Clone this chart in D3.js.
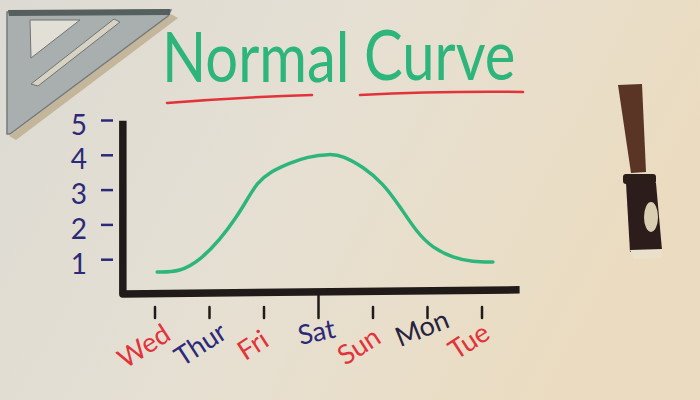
<!DOCTYPE html>
<html>
<head>
<meta charset="utf-8">
<script src="https://cdn.jsdelivr.net/npm/d3@7"></script>
<style>
  body { margin: 0; background: #e4e0d6; }
  svg { display: block; }
  text { font-family: "Lato", "Open Sans", sans-serif; }
</style>
</head>
<body>
<svg id="chart" width="700" height="400"></svg>
<script>
const days = ['Wed', 'Thur', 'Fri', 'Sat', 'Sun', 'Mon', 'Tue'];
const yTicks = [1, 2, 3, 4, 5];
// curve as (position along days, value)
const curveDay = [0.04, 0.46, 0.83, 1.19, 1.5, 1.69, 1.87, 2.11, 2.48, 2.79, 3.21, 3.45, 3.82, 4.18, 4.5, 4.81, 5.1, 5.47, 5.83, 6.2];
const curveVal = [0.63, 0.63, 0.98, 1.55, 2.22, 2.71, 3.19, 3.51, 3.77, 3.94, 4.03, 3.97, 3.65, 3.19, 2.5, 1.76, 1.32, 1.04, 0.92, 0.92];
const titleWords = ['Normal', 'Curve'];

const RED = '#e2333a', NAVY = '#2c2a78', GREEN = '#2db57c', INK = '#201b19';
const dayColors = [RED, NAVY, RED, NAVY, RED, '#26233f', RED];

const svg = d3.select('#chart');

// board background, cooler on the left, warmer on the right
const defs = svg.append('defs');
const grad = defs.append('linearGradient').attr('id', 'board')
  .attr('x1', 0).attr('x2', 1).attr('y1', 0).attr('y2', 0.3);
grad.append('stop').attr('offset', 0).attr('stop-color', '#dcdad3');
grad.append('stop').attr('offset', 0.5).attr('stop-color', '#e6e0d3');
grad.append('stop').attr('offset', 1).attr('stop-color', '#ebdcc1');
svg.append('rect').attr('width', 700).attr('height', 400).attr('fill', 'url(#board)');

// speed square in the corner
const sq = svg.append('g');
sq.append('path').attr('d', 'M171,14 L178,18 L16,140 L9,136 Z').attr('fill', '#b8a582').attr('opacity', 0.7);
sq.append('path').attr('d', 'M7,12 L171,10 L168,16 L10,134 L7,134 Z').attr('fill', '#a9aeae').attr('stroke', '#757b7b').attr('stroke-width', 1.5);
sq.append('path').attr('d', 'M8,10 L170,9 L170,15 L9,16 Z').attr('fill', '#55605e');
sq.append('path').attr('d', 'M30,20 L80,20 L31,58 Z').attr('fill', '#e2dfd7').attr('stroke', '#6f7573').attr('stroke-width', 1);
sq.append('path').attr('d', 'M114,19 L120,22 L38,86 L31,84 Z').attr('fill', '#d8d2c2').attr('stroke', '#6f7573').attr('stroke-width', 1);

// chisel on the right
const ch = svg.append('g');
ch.append('path').attr('d', 'M618,85 L642,84 L646,172 L631,173 Z').attr('fill', '#5a3526');
ch.append('rect').attr('x', 623).attr('y', 174).attr('width', 33).attr('height', 10).attr('rx', 3).attr('fill', '#2a1d1a');
ch.append('path').attr('d', 'M626,183 L656,183 L662,250 L630,252 Z').attr('fill', '#2c1c1b');
ch.append('path').attr('d', 'M630,250 L662,249 L662,258 L634,259 Z').attr('fill', '#e9e1cc');
ch.append('ellipse').attr('cx', 651).attr('cy', 217).attr('rx', 7).attr('ry', 15).attr('fill', '#d9ceb2');

// scales
const x = d3.scaleLinear().domain([0, 6]).range([155, 482]);
const y = d3.scaleLinear().domain([0, 5]).range([294, 120]);

// title, stretched tall like the handwriting
const title = svg.append('g').attr('fill', GREEN).attr('font-size', 58).attr('font-weight', 400);
title.append('text').attr('transform', 'translate(162,82) scale(1,1.2)').text(titleWords[0]);
title.append('text').attr('transform', 'translate(364,80) scale(1,1.2)').text(titleWords[1]);
svg.append('path').attr('d', 'M167,103 Q240,97 312,95').attr('fill', 'none').attr('stroke', RED).attr('stroke-width', 2.5).attr('stroke-linecap', 'round');
svg.append('path').attr('d', 'M360,95 Q440,91 523,92').attr('fill', 'none').attr('stroke', RED).attr('stroke-width', 2.5).attr('stroke-linecap', 'round');

// y axis ticks and labels
const yAxis = svg.append('g').attr('transform', 'translate(113,0)')
  .call(d3.axisLeft(y).tickValues(yTicks).tickSize(12).tickPadding(14).tickFormat(d3.format('d')));
yAxis.select('.domain').remove();
yAxis.selectAll('line').attr('stroke', NAVY).attr('stroke-width', 2.5);
yAxis.selectAll('text').attr('fill', NAVY).attr('font-size', 28).attr('font-family', 'Lato, sans-serif').attr('dy', '0.5em');

// thick axis lines
svg.append('path')
  .attr('d', `M${x(-0.59)},${y(4.98)} L${x(-0.59)},${y(0)} L${x(6.69)},${y(0.12)}`)
  .attr('fill', 'none').attr('stroke', INK).attr('stroke-width', 7.5).attr('stroke-linejoin', 'round');

// x ticks and day labels
const xAxis = svg.append('g').attr('transform', 'translate(0,307)');
xAxis.selectAll('line').data(days).join('line')
  .attr('x1', (d, i) => x(i)).attr('x2', (d, i) => x(i))
  .attr('y1', d => d === 'Sat' ? -12 : 0).attr('y2', 11)
  .attr('stroke', INK).attr('stroke-width', 2.5).attr('stroke-linecap', 'round');
const labelDx = [-6, -4, -6, 0, -9, -2, -8];
const labelY = [47, 45, 46, 34, 47, 30, 42];
xAxis.selectAll('text').data(days).join('text')
  .attr('transform', (d, i) => `translate(${x(i) + labelDx[i]},${labelY[i]}) rotate(${d === 'Sat' ? -12 : d === 'Mon' ? -22 : -33})`)
  .attr('text-anchor', 'middle')
  .attr('font-size', 27)
  .attr('fill', (d, i) => dayColors[i])
  .text(d => d);

// the curve
const pts = curveDay.map((d, i) => [d, curveVal[i]]);
svg.append('path').datum(pts)
  .attr('d', d3.line().x(d => x(d[0])).y(d => y(d[1])).curve(d3.curveBasis))
  .attr('fill', 'none').attr('stroke', GREEN).attr('stroke-width', 3.5).attr('stroke-linecap', 'round');
</script>
</body>
</html>
